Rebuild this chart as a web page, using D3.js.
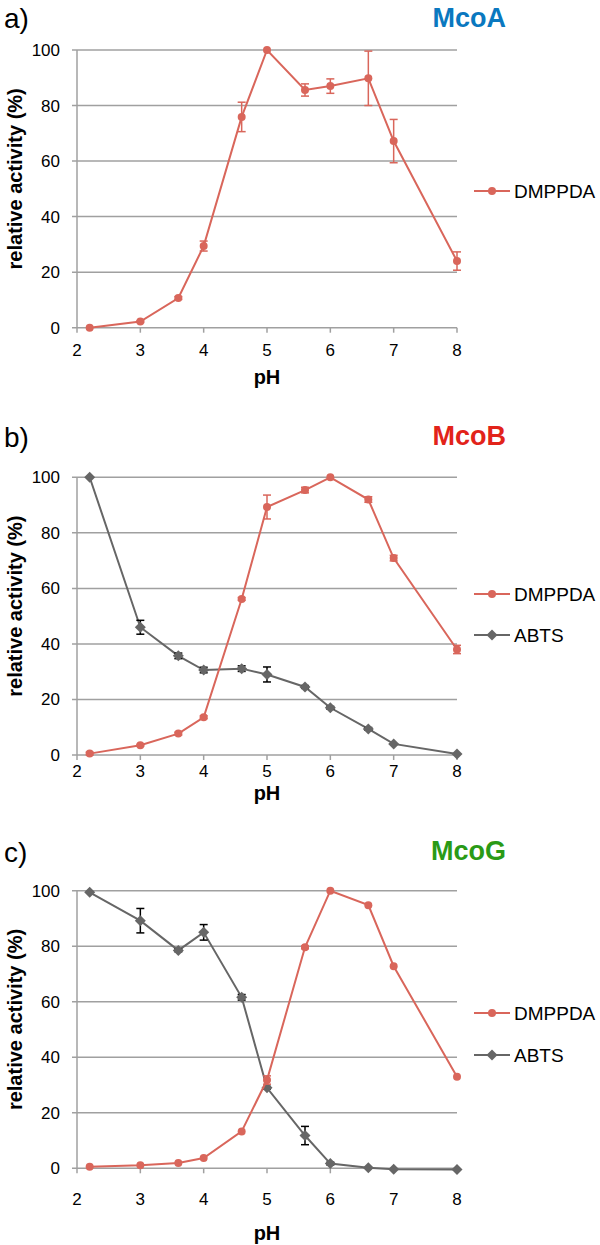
<!DOCTYPE html>
<html>
<head>
<meta charset="utf-8">
<script src="https://cdn.jsdelivr.net/npm/d3@7"></script>
<style>
  html, body { margin: 0; padding: 0; background: #fff; }
  svg { display: block; }
  text { font-family: "Liberation Sans", Arial, Helvetica, sans-serif; }
</style>
</head>
<body>
<svg id="chart" width="600" height="1245"></svg>
<script>
// ---------- data ----------
const pH = [2.2, 3, 3.6, 4, 4.6, 5, 5.6, 6, 6.6, 7, 8];
const xTicks = [2, 3, 4, 5, 6, 7, 8];
const yTicks = [0, 20, 40, 60, 80, 100];

const panelLetters = ["a)", "b)", "c)"];
const panelNames = ["McoA", "McoB", "McoG"];
const panelNameColors = ["#0a78bf", "#e2231a", "#2a9a16"];
const seriesNames = ["DMPPDA", "ABTS"];

const mcoA_DMPPDA     = [0, 2.2, 10.7, 29.4, 75.9, 100, 85.6, 87.0, 89.8, 67.2, 24.0];
const mcoA_DMPPDA_err = [0, 0.3, 0.5, 1.8, 5.3, 0, 2.2, 2.6, 9.8, 7.8, 3.3];

const mcoB_DMPPDA     = [0.5, 3.5, 7.7, 13.6, 56.2, 89.3, 95.4, 100, 92.0, 70.9, 38.0];
const mcoB_DMPPDA_err = [0.5, 0.3, 0.5, 0.5, 0.5, 4.3, 1.0, 0, 1.0, 1.0, 1.5];
const mcoB_ABTS       = [100, 46.0, 35.7, 30.6, 31.1, 29.0, 24.5, 17.0, 9.4, 4.0, 0.4];
const mcoB_ABTS_err   = [0, 2.5, 1.0, 1.0, 1.0, 2.7, 0.5, 0.5, 0.5, 0, 0];

const mcoG_DMPPDA     = [0.6, 1.1, 1.9, 3.7, 13.3, 31.8, 79.6, 100, 94.8, 72.8, 33.0];
const mcoG_DMPPDA_err = [0, 0, 0, 0, 0, 1.5, 0.5, 0, 0, 0, 0];
const mcoG_ABTS       = [99.4, 89.2, 78.5, 85.0, 61.6, 29.0, 11.8, 1.7, 0.2, -0.3, -0.4];
const mcoG_ABTS_err   = [0, 4.4, 0.5, 2.8, 1.0, 0.5, 3.3, 0.5, 0, 0, 0];

// ---------- layout ----------
const red = "#d9665b", grey = "#666666", gridCol = "#a0a0a0";
const panels = [
  { top: 50, bottom: 327.7, letterY: 28, nameY: 27, tickLab: 28, phLab: 56, legendY: [191],
    series: [{ name: seriesNames[0], v: mcoA_DMPPDA, e: mcoA_DMPPDA_err, color: red, errColor: red, shape: "circle" }] },
  { top: 477.3, bottom: 755, letterY: 447, nameY: 445, tickLab: 22, phLab: 45, legendY: [594, 635],
    series: [
      { name: seriesNames[1], v: mcoB_ABTS, e: mcoB_ABTS_err, color: grey, errColor: "#000", shape: "diamond" },
      { name: seriesNames[0], v: mcoB_DMPPDA, e: mcoB_DMPPDA_err, color: red, errColor: red, shape: "circle" }] },
  { top: 890.7, bottom: 1168.3, letterY: 862, nameY: 860, tickLab: 37, phLab: 72, legendY: [1013, 1055],
    series: [
      { name: seriesNames[1], v: mcoG_ABTS, e: mcoG_ABTS_err, color: grey, errColor: "#000", shape: "diamond" },
      { name: seriesNames[0], v: mcoG_DMPPDA, e: mcoG_DMPPDA_err, color: red, errColor: red, shape: "circle" }] }
];

const svg = d3.select("#chart");
const x = d3.scaleLinear().domain([2, 8]).range([77, 457]);

function drawMarker(g, shape, cx, cy, color) {
  if (shape === "circle") {
    g.append("circle").attr("cx", cx).attr("cy", cy).attr("r", 4).attr("fill", color);
  } else {
    const s = 5.5;
    g.append("path")
      .attr("d", `M${cx},${cy - s}L${cx + s},${cy}L${cx},${cy + s}L${cx - s},${cy}Z`)
      .attr("fill", color);
  }
}

panels.forEach((p, i) => {
  const y = d3.scaleLinear().domain([0, 100]).range([p.bottom, p.top]);
  const g = svg.append("g");

  // grid lines
  g.append("g").selectAll("line").data(yTicks).join("line")
    .attr("x1", x(2) - 5).attr("x2", x(8))
    .attr("y1", d => y(d)).attr("y2", d => y(d))
    .attr("stroke", gridCol).attr("stroke-width", 1.5);

  // y axis line
  g.append("line").attr("x1", x(2)).attr("x2", x(2))
    .attr("y1", y(100)).attr("y2", y(0))
    .attr("stroke", gridCol).attr("stroke-width", 1.5);

  // x axis ticks
  g.append("g").selectAll("line").data(xTicks).join("line")
    .attr("x1", d => x(d)).attr("x2", d => x(d))
    .attr("y1", y(0)).attr("y2", y(0) + 5)
    .attr("stroke", gridCol).attr("stroke-width", 1.5);

  // y tick labels
  g.append("g").selectAll("text").data(yTicks).join("text")
    .attr("x", 60).attr("y", d => y(d) + 6)
    .attr("text-anchor", "end").attr("font-size", 17).attr("fill", "#000")
    .text(d => d);

  // x tick labels
  g.append("g").selectAll("text").data(xTicks).join("text")
    .attr("x", d => x(d)).attr("y", y(0) + p.tickLab)
    .attr("text-anchor", "middle").attr("font-size", 17).attr("fill", "#000")
    .text(d => d);

  // x title
  g.append("text").attr("x", (x(2) + x(8)) / 2).attr("y", y(0) + p.phLab)
    .attr("text-anchor", "middle").attr("font-size", 20).attr("font-weight", "bold")
    .text("pH");

  // y title
  g.append("text")
    .attr("transform", `translate(22,${(y(0) + y(100)) / 2 - 10}) rotate(-90)`)
    .attr("text-anchor", "middle").attr("font-size", 20).attr("font-weight", "bold")
    .text("relative activity (%)");

  // panel letter & name
  g.append("text").attr("x", 4).attr("y", p.letterY).attr("font-size", 28).text(panelLetters[i]);
  g.append("text").attr("x", 506).attr("y", p.nameY).attr("text-anchor", "end")
    .attr("font-size", 27).attr("font-weight", "bold").attr("fill", panelNameColors[i])
    .text(panelNames[i]);

  // series
  p.series.forEach(s => {
    const pts = pH.map((px, k) => ({ x: px, v: s.v[k], e: s.e[k] }));
    const line = d3.line().x(d => x(d.x)).y(d => y(d.v));
    g.append("path").datum(pts).attr("d", line)
      .attr("fill", "none").attr("stroke", s.color).attr("stroke-width", 2);
    // error bars
    pts.filter(d => d.e > 0).forEach(d => {
      const cx = x(d.x), y1 = y(d.v + d.e), y2 = y(d.v - d.e);
      g.append("line").attr("x1", cx).attr("x2", cx).attr("y1", y1).attr("y2", y2)
        .attr("stroke", s.errColor).attr("stroke-width", 1.5);
      [y1, y2].forEach(yy => g.append("line")
        .attr("x1", cx - 4).attr("x2", cx + 4).attr("y1", yy).attr("y2", yy)
        .attr("stroke", s.errColor).attr("stroke-width", 1.5));
    });
    pts.forEach(d => drawMarker(g, s.shape, x(d.x), y(d.v), s.color));
  });

  // legend (DMPPDA first, then ABTS)
  const legendOrder = p.series.slice().sort((a, b) => seriesNames.indexOf(a.name) - seriesNames.indexOf(b.name));
  legendOrder.forEach((s, k) => {
    const ly = p.legendY[k];
    g.append("line").attr("x1", 474).attr("x2", 510).attr("y1", ly).attr("y2", ly)
      .attr("stroke", s.color).attr("stroke-width", 2);
    drawMarker(g, s.shape, 492, ly, s.color);
    g.append("text").attr("x", 514).attr("y", ly + 6.5).attr("font-size", 19).text(s.name);
  });
});
</script>
</body>
</html>
